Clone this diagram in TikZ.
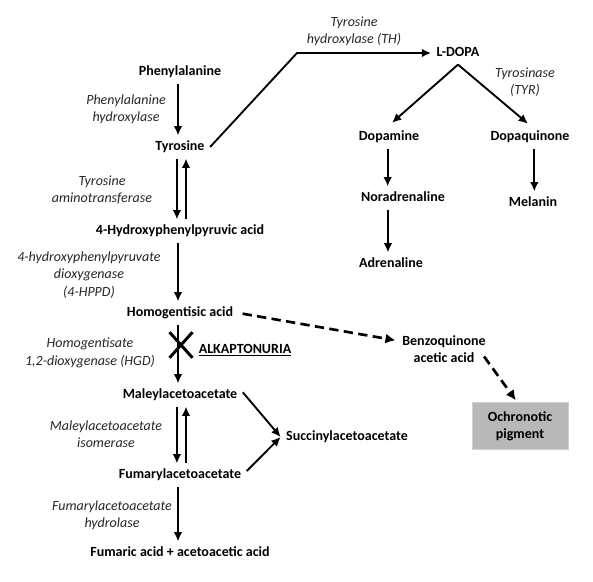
\documentclass[tikz,border=0pt]{standalone}
\usepackage{fontspec}
\setmainfont{Carlito}
\usetikzlibrary{arrows.meta,positioning,shapes.misc,calc}

\begin{document}
\begin{tikzpicture}[
    x=0.75pt, y=-0.75pt,
    % --- STYLES ---
    compound/.style={
        font=\fontsize{10.5}{13}\selectfont\bfseries, inner sep=4pt,
        text height=7pt, text depth=2pt
    },
    enzyme/.style={
        font=\fontsize{10.5}{13}\selectfont\itshape, text=black!85,
        align=center, inner sep=1pt
    },
    pigment/.style={
        rectangle, fill=black!28, draw=black!18,
        font=\fontsize{10.5}{13}\selectfont\bfseries, align=center,
        minimum width=72pt, minimum height=35pt
    },
    reaction/.style={-{Latex[length=7pt,width=6.5pt]}, line width=1.4pt},
    leak/.style={-{Latex[length=7.5pt,width=7.5pt]}, line width=2pt, dash pattern=on 7pt off 4pt}
]
\useasboundingbox (0,0) rectangle (593,582);

% ===== 1. COLUMNS =====
\def\xMain{180}
\def\xDopa{389}
\def\xMel{531}

% ===== 2. MAIN PATHWAY NODES =====
\node[compound] (phe) at (\xMain,72) {Phenylalanine};
\node[compound] (tyr) at (\xMain,147) {Tyrosine};
\node[compound] (hpp) at (\xMain,231) {4-Hydroxyphenylpyruvic acid};
\node[compound] (hga) at (\xMain,313) {Homogentisic acid};
\node[compound] (maa) at (\xMain,395) {Maleylacetoacetate};
\node[compound] (faa) at (\xMain,475) {Fumarylacetoacetate};
\node[compound] (fum) at (\xMain,553) {Fumaric acid + acetoacetic acid};
\node[compound] (saa) at (347,437) {Succinylacetoacetate};

% Blocked step
\node[draw, cross out, line width=2.2pt, minimum width=15pt, minimum height=17pt, inner sep=0pt] (block) at (181,345) {};
\node[compound] (akl) at (245,350) {\underline{ALKAPTONURIA}};

% ===== 3. L-DOPA BRANCH NODES =====
\node[compound] (dopa) at (458,53) {L-DOPA};
\node[compound] (dopamine) at (\xDopa,137) {Dopamine};
\node[compound] (nor) at (403,198) {Noradrenaline};
\node[compound] (adr) at (391,264) {Adrenaline};
\node[compound] (dq) at (530,137) {Dopaquinone};
\node[compound] (mel) at (533,203) {Melanin};
\coordinate (thbend) at (297,53);

% ===== 4. SIDE PRODUCTS =====
\node[font=\fontsize{10.5}{13}\selectfont\bfseries, align=center, inner sep=2pt] (bqa) at (444,349) {Benzoquinone\\acetic acid};
\node[pigment] (ochro) at (520,426) {Ochronotic\\pigment};

% ===== 5. ENZYME LABELS =====
\node[enzyme] (e_pah) at (126,109) {Phenylalanine\\hydroxylase};
\node[enzyme] (e_th) at (354,31) {Tyrosine\\hydroxylase (TH)};
\node[enzyme] (e_tat) at (102,190) {Tyrosine\\aminotransferase};
\node[enzyme] (e_hppd) at (89,275) {4-hydroxyphenylpyruvate\\dioxygenase\\(4-HPPD)};
\node[enzyme] (e_hgd) at (90,353) {Homogentisate\\1,2-dioxygenase (HGD)};
\node[enzyme] (e_mai) at (106,434) {Maleylacetoacetate\\isomerase};
\node[enzyme] (e_fah) at (112,515) {Fumarylacetoacetate\\hydrolase};
\node[enzyme] (e_tyr) at (525,82) {Tyrosinase\\(TYR)};

% ===== 6. CONNECTIONS =====
% -- main column --
\draw[reaction] ([xshift=-1.5pt]phe.south) -- ([xshift=-1.5pt]tyr.north);
\draw[reaction] ([xshift=-2.3pt]tyr.south) -- ([xshift=-2.3pt]hpp.north);
\draw[reaction] ([xshift=4.5pt]hpp.north) -- ([xshift=4.5pt]tyr.south);
\draw[reaction] ([xshift=-1.5pt]hpp.south) -- ([xshift=-1.5pt]hga.north);
\draw[reaction] ([xshift=-1.5pt]hga.south) -- ([xshift=-1.5pt]maa.north);
\draw[reaction] ([xshift=-2.3pt]maa.south) -- ([xshift=-2.3pt]faa.north);
\draw[reaction] ([xshift=4.5pt]faa.north) -- ([xshift=4.5pt]maa.south);
\draw[reaction] ([xshift=-1.5pt]faa.south) -- ([xshift=-1.5pt]fum.north);

% -- towards succinylacetoacetate --
\draw[reaction] ([yshift=2pt]maa.east) -- (saa.west);
\draw[reaction] ([yshift=3pt]faa.east) -- (saa.west);

% -- tyrosine hydroxylase --
\draw[reaction] (tyr.east) -- (thbend) -- (dopa.west);
\draw[reaction, shorten >=3pt] (dopa.south) -- (dopamine.north);
\draw[reaction, shorten >=2pt] (dopa.south) -- (dq.north);
\draw[reaction] ([xshift=-1pt]dopamine.south) -- ([xshift=-1pt]dopamine.south |- nor.north);
\draw[reaction] ([xshift=-2.3pt]adr.north |- nor.south) -- ([xshift=-2.3pt]adr.north);
\draw[reaction] ([xshift=1pt]mel.north |- dq.south) -- ([xshift=1pt]mel.north);

% -- alkaptonuria side route (dashed) --
\draw[leak, shorten <=3pt, shorten >=3pt] (hga.east) -- ([yshift=6pt]bqa.west);
\draw[leak, shorten >=2pt] ([xshift=-3.4pt,yshift=-5.6pt]bqa.east) -- ([xshift=-2pt]ochro.north);

\end{tikzpicture}
\end{document}
